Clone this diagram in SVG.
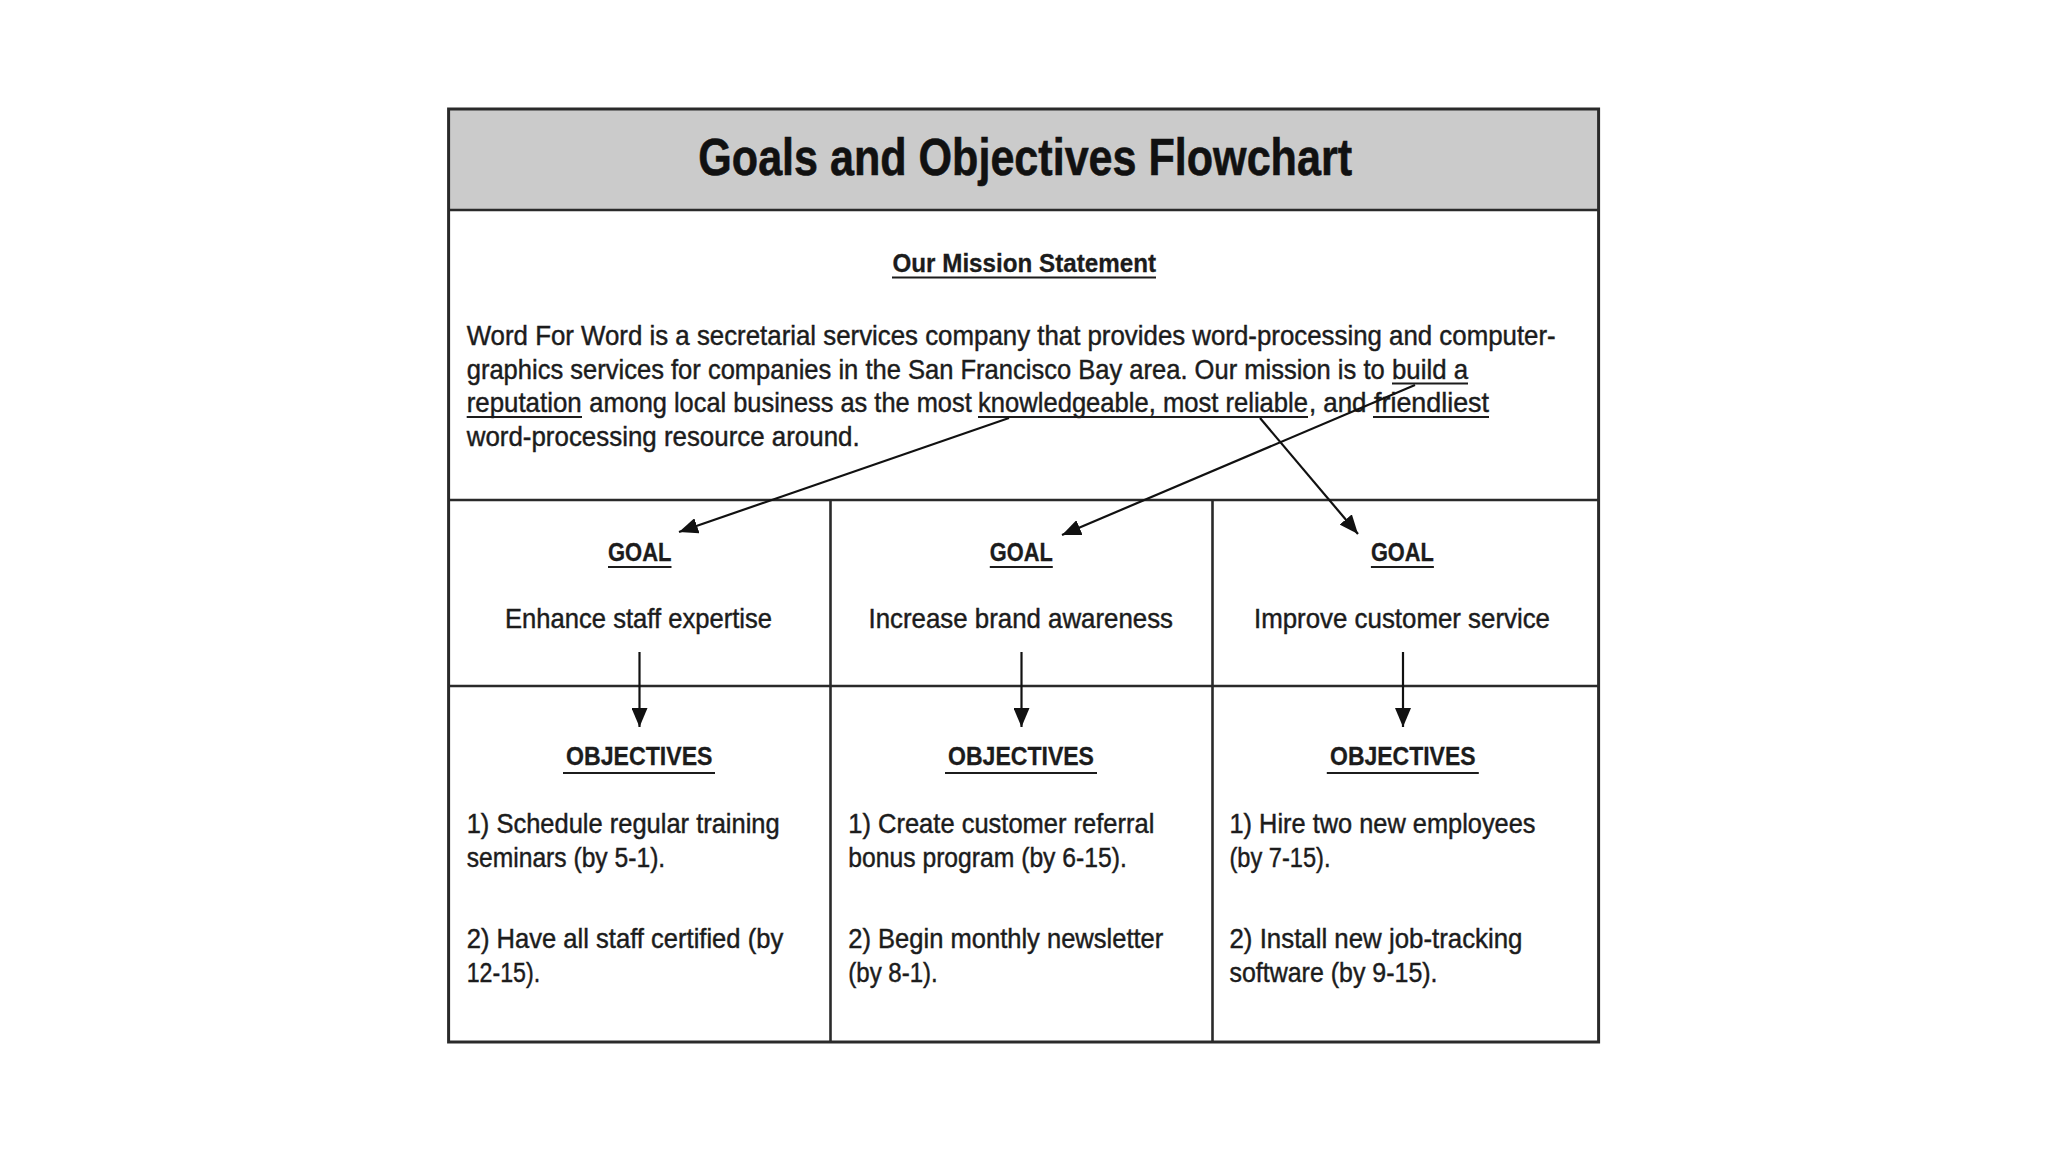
<svg xmlns="http://www.w3.org/2000/svg" width="2048" height="1152" viewBox="0 0 2048 1152">
<style>
.t{font-family:"Liberation Sans",Arial,sans-serif;fill:#1c1c1c;font-size:28px;stroke:#1c1c1c;stroke-width:0.45px}
.b{font-weight:bold;stroke-width:0.3px}
.ul{stroke:#1c1c1c;stroke-width:2.2}
.grid{stroke:#2a2a2a;stroke-width:2.6;fill:none}
.conn{stroke:#111;stroke-width:2.2;fill:none;marker-end:url(#ah)}
</style>
<defs>
<marker id="ah" markerUnits="userSpaceOnUse" markerWidth="20" markerHeight="16" refX="19" refY="8" orient="auto">
<path d="M0,0 L19,8 L0,16 z" fill="#111"/>
</marker>
</defs>
<rect width="2048" height="1152" fill="#ffffff"/>

<g id="frame">
<rect x="448.6" y="109" width="1150" height="101" fill="#cbcbcb"/>
<rect x="448.6" y="109" width="1150" height="933" fill="none" stroke="#2a2a2a" stroke-width="3"/>
<line class="grid" x1="448.6" y1="210" x2="1598.6" y2="210"/>
<line class="grid" x1="448.6" y1="500" x2="1598.6" y2="500"/>
<line class="grid" x1="448.6" y1="686" x2="1598.6" y2="686"/>
<line class="grid" x1="830.5" y1="500" x2="830.5" y2="1042"/>
<line class="grid" x1="1212.5" y1="500" x2="1212.5" y2="1042"/>
</g>

<g id="header">
<text class="t b" x="698.3" y="175" textLength="653.7" lengthAdjust="spacingAndGlyphs" style="font-size:52px;fill:#111;stroke:#111;stroke-width:0.6px">Goals and Objectives Flowchart</text>
</g>

<g id="mission">
<text class="t b" x="892.5" y="271.5" textLength="263.5" lengthAdjust="spacingAndGlyphs" style="font-size:26px">Our Mission Statement</text>
<line class="ul" x1="892" y1="277.5" x2="1156" y2="277.5"/>
<text class="t" x="466.7" y="345" textLength="1089" lengthAdjust="spacingAndGlyphs">Word For Word is a secretarial services company that provides word-processing and computer-</text>
<text class="t" x="466.7" y="378.5" textLength="918" lengthAdjust="spacingAndGlyphs">graphics services for companies in the San Francisco Bay area. Our mission is to</text>
<text class="t" x="1392" y="378.5" textLength="76" lengthAdjust="spacingAndGlyphs">build a</text>
<line class="ul" x1="1392" y1="383.5" x2="1468" y2="383.5"/>
<text class="t" x="466.7" y="412" textLength="115" lengthAdjust="spacingAndGlyphs">reputation</text>
<line class="ul" x1="466.7" y1="417" x2="582" y2="417"/>
<text class="t" x="589.3" y="412" textLength="382.4" lengthAdjust="spacingAndGlyphs">among local business as the most</text>
<text class="t" x="978" y="412" textLength="330" lengthAdjust="spacingAndGlyphs">knowledgeable, most reliable</text>
<line class="ul" x1="978" y1="417" x2="1308" y2="417"/>
<text class="t" x="1309" y="412" textLength="57.5" lengthAdjust="spacingAndGlyphs">, and</text>
<text class="t" x="1374" y="412" textLength="115" lengthAdjust="spacingAndGlyphs">friendliest</text>
<line class="ul" x1="1373" y1="417" x2="1489" y2="417"/>
<text class="t" x="466.7" y="445.5" textLength="393" lengthAdjust="spacingAndGlyphs">word-processing resource around.</text>
</g>

<g id="goal-1">
<text class="t b" x="639.7" y="560.5" text-anchor="middle" textLength="63.5" lengthAdjust="spacingAndGlyphs" style="font-size:26px">GOAL</text>
<line class="ul" x1="608" y1="567" x2="671.5" y2="567"/>
<text class="t" x="638.5" y="628" text-anchor="middle" textLength="267" lengthAdjust="spacingAndGlyphs">Enhance staff expertise</text>
</g>
<g id="goal-2">
<text class="t b" x="1021.3" y="560.5" text-anchor="middle" textLength="63" lengthAdjust="spacingAndGlyphs" style="font-size:26px">GOAL</text>
<line class="ul" x1="989.8" y1="567" x2="1052.8" y2="567"/>
<text class="t" x="1020.8" y="628" text-anchor="middle" textLength="304.5" lengthAdjust="spacingAndGlyphs">Increase brand awareness</text>
</g>
<g id="goal-3">
<text class="t b" x="1402.4" y="560.5" text-anchor="middle" textLength="63" lengthAdjust="spacingAndGlyphs" style="font-size:26px">GOAL</text>
<line class="ul" x1="1370.9" y1="567" x2="1433.9" y2="567"/>
<text class="t" x="1402" y="628" text-anchor="middle" textLength="296" lengthAdjust="spacingAndGlyphs">Improve customer service</text>
</g>

<g id="objectives-1">
<text class="t b" x="639.3" y="765" text-anchor="middle" textLength="146.5" lengthAdjust="spacingAndGlyphs" style="font-size:26px">OBJECTIVES</text>
<line class="ul" x1="563" y1="773" x2="715" y2="773"/>
<text class="t" x="466.7" y="833.3" textLength="313" lengthAdjust="spacingAndGlyphs">1) Schedule regular training</text>
<text class="t" x="466.7" y="866.7" textLength="198.5" lengthAdjust="spacingAndGlyphs">seminars (by 5-1).</text>
<text class="t" x="466.7" y="948.3" textLength="316.5" lengthAdjust="spacingAndGlyphs">2) Have all staff certified (by</text>
<text class="t" x="466.7" y="981.7" textLength="73.5" lengthAdjust="spacingAndGlyphs">12-15).</text>
</g>
<g id="objectives-2">
<text class="t b" x="1021" y="765" text-anchor="middle" textLength="146" lengthAdjust="spacingAndGlyphs" style="font-size:26px">OBJECTIVES</text>
<line class="ul" x1="945" y1="773" x2="1097" y2="773"/>
<text class="t" x="848.3" y="833.3" textLength="306" lengthAdjust="spacingAndGlyphs">1) Create customer referral</text>
<text class="t" x="848.3" y="866.7" textLength="278.5" lengthAdjust="spacingAndGlyphs">bonus program (by 6-15).</text>
<text class="t" x="848.3" y="948.3" textLength="315" lengthAdjust="spacingAndGlyphs">2) Begin monthly newsletter</text>
<text class="t" x="848.3" y="981.7" textLength="89.5" lengthAdjust="spacingAndGlyphs">(by 8-1).</text>
</g>
<g id="objectives-3">
<text class="t b" x="1402.8" y="765" text-anchor="middle" textLength="145.5" lengthAdjust="spacingAndGlyphs" style="font-size:26px">OBJECTIVES</text>
<line class="ul" x1="1326.8" y1="773" x2="1478.8" y2="773"/>
<text class="t" x="1229.5" y="833.3" textLength="306" lengthAdjust="spacingAndGlyphs">1) Hire two new employees</text>
<text class="t" x="1229.5" y="866.7" textLength="101" lengthAdjust="spacingAndGlyphs">(by 7-15).</text>
<text class="t" x="1229.5" y="948.3" textLength="293" lengthAdjust="spacingAndGlyphs">2) Install new job-tracking</text>
<text class="t" x="1229.5" y="981.7" textLength="208" lengthAdjust="spacingAndGlyphs">software (by 9-15).</text>
</g>

<g id="connectors">
<line class="conn" x1="1009" y1="418" x2="679" y2="532"/>
<line class="conn" x1="1415" y1="385" x2="1062" y2="535"/>
<line class="conn" x1="1260" y1="418" x2="1358" y2="534"/>
<line class="conn" x1="639.5" y1="652" x2="639.5" y2="727"/>
<line class="conn" x1="1021.5" y1="652" x2="1021.5" y2="727"/>
<line class="conn" x1="1403" y1="652" x2="1403" y2="727"/>
</g>
</svg>
